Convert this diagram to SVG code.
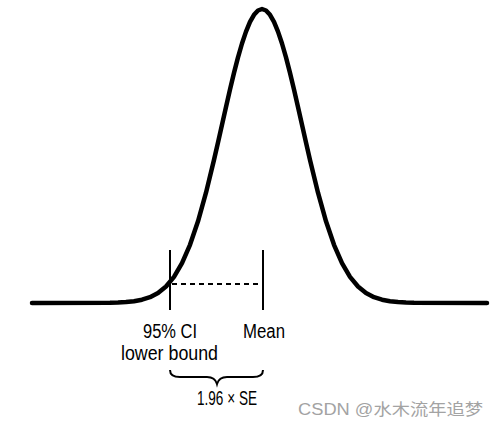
<svg xmlns="http://www.w3.org/2000/svg" width="504" height="428" viewBox="0 0 504 428">
<style>
.curve{fill:none;stroke:#000;stroke-width:4.5;stroke-linejoin:round;stroke-linecap:round}
.tick{stroke:#000;stroke-width:2;fill:none}
.dash{stroke:#000;stroke-width:2;stroke-dasharray:5 4;fill:none}
.lbl{font-family:"Liberation Sans Narrow","Liberation Sans",Arial,sans-serif;font-size:19.5px;fill:#000;text-anchor:middle}
.wm{font-family:"Liberation Sans","Noto Sans CJK SC",sans-serif;font-size:16px;fill:#a3a3a3}
</style>
<rect width="504" height="428" fill="#fff"/>
<g id="curve">
<polyline class="curve" points="32,303 110,302.8 118,302.55 126,302.1 134,301.2 142,299.7 150,297.2 158,293 166,286.5 174,276.9 182,263.2 190,244.8 198,221.3 206,192.7 214,159.9 218,142.4 222,124.7 226,106.9 230,89.5 234,72.9 238,57.4 242,43.5 246,31.6 250,21.9 254,14.8 258,10.5 262,9 266,10.5 270,14.8 274,21.9 278,31.6 282,43.5 286,57.4 290,72.9 294,89.5 298,106.9 302,124.7 306,142.4 310,159.9 318,192.7 326,221.3 334,244.8 342,263.2 350,276.9 358,286.5 366,293 374,297.2 382,299.7 390,301.2 398,302.1 406,302.55 414,302.8 487,303"/>
</g>
<g id="connectors">
<line class="tick" x1="170" y1="250" x2="170" y2="310"/>
<line class="tick" x1="263" y1="250" x2="263" y2="310"/>
<line class="dash" x1="172" y1="284" x2="262" y2="284"/>
<path class="tick" d="M170,370 Q170,377 180,377 L207,377 Q215,377 217,384 Q219,377 227,377 L253,377 Q263,377 263,370"/>
</g>
<g id="lower">
<text class="lbl" x="170" y="338" textLength="54" lengthAdjust="spacingAndGlyphs">95% CI</text>
<text class="lbl" x="169.5" y="360" textLength="97" lengthAdjust="spacingAndGlyphs">lower bound</text>
</g>
<g id="mean">
<text class="lbl" x="264" y="338" textLength="42" lengthAdjust="spacingAndGlyphs">Mean</text>
</g>
<g id="se">
<text class="lbl" x="227" y="405" textLength="60" lengthAdjust="spacingAndGlyphs">1.96 × SE</text>
</g>
<text class="wm" x="298" y="415" textLength="185" lengthAdjust="spacingAndGlyphs">CSDN @水木流年追梦</text>
</svg>
